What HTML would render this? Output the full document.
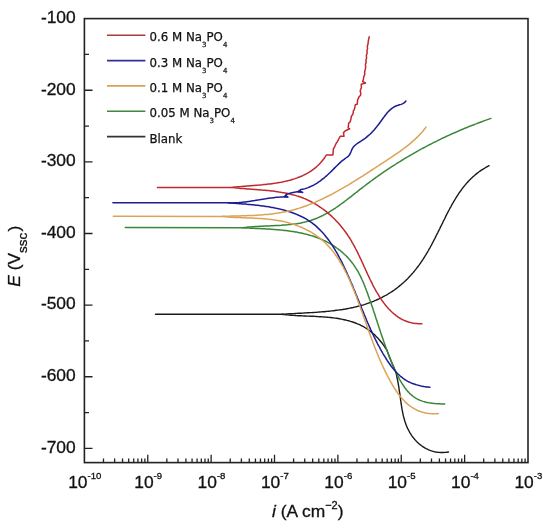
<!DOCTYPE html>
<html><head><meta charset="utf-8"><style>
html,body{margin:0;padding:0;background:#fff;}
svg{display:block;}
.ax{font-family:"Liberation Sans",Arial,sans-serif;font-size:17.4px;fill:#111;stroke:#111;stroke-width:0.3px;}
.lg{font-family:"DejaVu Sans","Liberation Sans",sans-serif;font-size:11.8px;fill:#111;stroke:#111;stroke-width:0.25px;}
</style></head><body>
<svg width="550" height="529" viewBox="0 0 550 529">
<rect width="550" height="529" fill="#fff"/>
<g fill="none" stroke-linejoin="round" stroke-linecap="round">
<path d="M155.5,314.3 282.0,314.3 L282.0,314.3 283.5,314.2 284.9,314.1 286.4,314.0 287.8,313.9 289.3,313.8 290.8,313.7 292.3,313.6 293.8,313.6 295.2,313.5 296.7,313.4 298.2,313.3 299.8,313.2 301.3,313.2 302.8,313.1 304.3,313.0 305.8,312.9 307.3,312.8 308.9,312.7 310.4,312.6 311.9,312.6 313.5,312.5 315.0,312.4 316.5,312.3 318.1,312.1 319.6,312.0 321.1,311.9 322.7,311.8 324.2,311.7 325.7,311.5 327.3,311.4 328.8,311.2 330.4,311.1 331.9,310.9 333.4,310.7 335.0,310.5 336.5,310.3 338.0,310.1 339.5,309.9 341.1,309.7 342.6,309.5 344.1,309.2 345.6,309.0 347.1,308.7 348.6,308.4 350.1,308.1 351.6,307.8 353.1,307.5 354.6,307.1 356.1,306.8 357.6,306.4 359.0,306.0 360.5,305.6 362.0,305.2 363.4,304.8 364.9,304.3 366.3,303.9 367.7,303.4 369.2,302.9 370.6,302.4 372.0,301.8 373.4,301.3 374.8,300.7 376.2,300.1 377.5,299.5 378.9,298.9 380.2,298.3 381.6,297.6 382.9,296.9 384.2,296.2 385.5,295.5 386.8,294.8 388.1,294.0 389.4,293.2 390.6,292.5 391.9,291.6 393.1,290.8 394.3,290.0 395.5,289.1 396.7,288.2 397.9,287.3 399.0,286.4 400.2,285.4 401.3,284.5 402.4,283.5 403.6,282.5 404.7,281.5 405.7,280.5 406.8,279.4 407.9,278.4 408.9,277.3 409.9,276.2 410.9,275.1 411.9,274.0 412.9,272.9 413.9,271.7 414.8,270.6 415.8,269.4 416.7,268.2 417.6,267.0 418.5,265.8 419.4,264.6 420.3,263.3 421.1,262.1 422.0,260.8 422.8,259.6 423.6,258.3 424.5,257.0 425.3,255.7 426.1,254.4 426.8,253.1 427.6,251.8 428.4,250.5 429.1,249.1 429.9,247.8 430.6,246.5 431.4,245.1 432.1,243.7 432.8,242.4 433.5,241.0 434.2,239.7 435.0,238.3 435.6,236.9 436.3,235.5 437.0,234.1 437.7,232.8 438.4,231.4 439.1,230.0 439.8,228.6 440.4,227.2 441.1,225.9 441.8,224.5 442.5,223.1 443.1,221.7 443.8,220.3 444.5,219.0 445.2,217.6 445.8,216.2 446.5,214.9 447.2,213.5 447.9,212.2 448.6,210.8 449.3,209.5 450.0,208.1 450.8,206.8 451.5,205.5 452.2,204.2 453.0,202.8 453.7,201.5 454.5,200.3 455.3,199.0 456.1,197.7 456.9,196.4 457.7,195.2 458.5,193.9 459.3,192.7 460.2,191.5 461.0,190.3 461.9,189.1 462.8,187.9 463.7,186.8 464.6,185.6 465.6,184.5 466.5,183.4 467.5,182.3 468.5,181.2 469.6,180.1 470.6,179.0 471.7,178.0 472.7,177.0 473.9,176.0 475.0,175.0 476.1,174.1 477.3,173.1 478.5,172.2 479.7,171.3 481.0,170.4 482.3,169.6 483.6,168.8 484.9,168.0 486.3,167.2 487.7,166.4 489.1,165.7" stroke="#1a1a1a" stroke-width="1.4"/>
<path d="M282.0,314.3 283.4,314.5 284.8,314.6 286.3,314.8 287.7,314.9 289.1,315.1 290.6,315.2 292.1,315.3 293.6,315.4 295.0,315.5 296.5,315.6 298.0,315.7 299.6,315.8 301.1,315.8 302.6,315.9 304.1,316.0 305.7,316.0 307.2,316.1 308.8,316.1 310.3,316.2 311.8,316.3 313.4,316.3 315.0,316.4 316.5,316.5 318.1,316.6 319.6,316.7 321.2,316.8 322.7,316.9 324.3,317.0 325.8,317.1 327.4,317.2 328.9,317.4 330.5,317.5 332.0,317.7 333.5,317.9 335.1,318.1 336.6,318.3 338.1,318.5 339.6,318.8 341.1,319.1 342.6,319.4 344.0,319.7 345.5,320.0 347.0,320.4 348.4,320.7 349.9,321.2 351.3,321.6 352.7,322.0 354.1,322.5 355.5,323.0 356.9,323.6 358.2,324.1 359.6,324.7 360.9,325.4 362.2,326.0 363.5,326.7 364.8,327.5 366.0,328.2 367.2,329.0 368.5,329.9 369.7,330.8 370.8,331.7 372.0,332.6 373.1,333.6 374.3,334.6 375.4,335.6 376.4,336.7 377.5,337.8 378.5,338.9 379.5,340.0 380.5,341.2 381.4,342.3 382.4,343.5 383.3,344.8 384.2,346.0 385.0,347.3 385.8,348.5 386.6,349.5 387.2,350.9 387.7,352.4 388.2,353.8 388.8,355.2 389.3,356.6 389.9,358.0 390.5,359.4 391.0,360.8 391.6,362.2 392.2,363.6 392.8,365.0 393.4,366.4 394.0,367.8 394.6,369.2 395.3,370.6 395.8,372.0 396.1,373.4 396.5,374.9 396.8,376.4 397.1,377.8 397.4,379.3 397.7,380.8 398.0,382.3 398.3,383.8 398.5,385.3 398.8,386.8 399.0,388.3 399.2,389.8 399.4,391.3 399.7,392.8 399.9,394.3 400.1,395.9 400.3,397.4 400.5,398.9 400.7,400.5 400.9,402.0 401.1,403.5 401.4,405.0 401.6,406.6 401.8,408.1 402.1,409.6 402.4,411.1 402.7,412.6 403.0,414.1 403.3,415.6 403.7,417.1 404.1,418.5 404.5,420.0 404.9,421.4 405.4,422.8 405.9,424.2 406.4,425.6 407.0,427.0 407.6,428.4 408.3,429.7 409.0,431.0 409.7,432.3 410.5,433.6 411.3,434.9 412.1,436.1 413.0,437.3 413.9,438.4 414.8,439.5 415.8,440.6 416.8,441.7 417.9,442.7 419.0,443.7 420.1,444.6 421.2,445.5 422.4,446.3 423.6,447.1 424.8,447.9 426.1,448.6 427.4,449.2 428.7,449.8 430.1,450.4 431.5,450.9 432.9,451.3 434.3,451.7 435.8,452.0 437.3,452.2 438.8,452.4 440.4,452.5 442.0,452.5 443.6,452.5 445.2,452.4 446.9,452.2 448.5,452.0" stroke="#1a1a1a" stroke-width="1.4"/>
<path d="M125.3,227.6 242.0,227.7 L242.0,227.7 243.5,227.6 244.9,227.4 246.3,227.3 247.8,227.1 249.3,227.0 250.8,226.9 252.2,226.8 253.7,226.7 255.2,226.6 256.7,226.5 258.2,226.4 259.7,226.3 261.2,226.3 262.8,226.2 264.3,226.1 265.8,226.1 267.3,226.0 268.9,225.9 270.4,225.8 272.0,225.8 273.5,225.7 275.1,225.6 276.6,225.5 278.2,225.4 279.7,225.4 281.3,225.3 282.8,225.1 284.4,225.0 285.9,224.9 287.4,224.8 289.0,224.6 290.5,224.5 292.1,224.3 293.6,224.1 295.1,223.9 296.6,223.7 298.1,223.4 299.6,223.2 301.1,222.9 302.6,222.6 304.1,222.3 305.6,221.9 307.0,221.5 308.5,221.1 309.9,220.7 311.3,220.3 312.7,219.8 314.1,219.3 315.5,218.8 316.9,218.2 318.2,217.6 319.6,217.0 320.9,216.4 322.2,215.8 323.5,215.1 324.8,214.4 326.1,213.7 327.4,213.0 328.7,212.3 330.0,211.5 331.2,210.7 332.5,209.9 333.7,209.1 335.0,208.3 336.2,207.5 337.5,206.6 338.7,205.8 339.9,204.9 341.1,204.0 342.3,203.2 343.5,202.3 344.7,201.4 346.0,200.5 347.1,199.5 348.3,198.6 349.5,197.7 350.7,196.8 351.9,195.8 353.1,194.9 354.3,193.9 355.5,193.0 356.7,192.1 357.9,191.1 359.1,190.2 360.3,189.2 361.5,188.3 362.7,187.4 363.9,186.5 365.1,185.5 366.3,184.6 367.5,183.7 368.7,182.8 369.9,181.9 371.1,181.0 372.4,180.1 373.6,179.2 374.8,178.3 376.0,177.4 377.3,176.6 378.5,175.7 379.7,174.8 381.0,174.0 382.2,173.1 383.5,172.2 384.7,171.4 385.9,170.6 387.2,169.7 388.5,168.9 389.7,168.0 391.0,167.2 392.2,166.4 393.5,165.6 394.8,164.8 396.0,164.0 397.3,163.1 398.6,162.3 399.9,161.6 401.1,160.8 402.4,160.0 403.7,159.2 405.0,158.4 406.3,157.6 407.6,156.9 408.9,156.1 410.2,155.3 411.5,154.6 412.8,153.8 414.1,153.1 415.4,152.4 416.7,151.6 418.0,150.9 419.3,150.2 420.6,149.4 422.0,148.7 423.3,148.0 424.6,147.3 425.9,146.6 427.3,145.9 428.6,145.2 429.9,144.5 431.3,143.8 432.6,143.1 434.0,142.4 435.3,141.8 436.7,141.1 438.0,140.4 439.4,139.8 440.7,139.1 442.1,138.4 443.4,137.8 444.8,137.2 446.2,136.5 447.5,135.9 448.9,135.3 450.3,134.6 451.6,134.0 453.0,133.4 454.4,132.8 455.8,132.2 457.1,131.6 458.5,131.0 459.9,130.4 461.3,129.8 462.7,129.2 464.1,128.6 465.5,128.0 466.9,127.5 468.3,126.9 469.7,126.3 471.1,125.8 472.5,125.2 473.9,124.7 475.3,124.1 476.7,123.6 478.2,123.0 479.6,122.5 481.0,122.0 482.4,121.5 483.8,120.9 485.3,120.4 486.7,119.9 488.1,119.4 489.6,118.9 491.0,118.4" stroke="#3a863a" stroke-width="1.5"/>
<path d="M242.0,227.7 243.5,227.8 245.0,227.9 246.4,227.9 247.9,228.0 249.4,228.1 250.9,228.2 252.4,228.2 253.9,228.3 255.5,228.4 257.0,228.5 258.5,228.5 260.0,228.6 261.5,228.7 263.0,228.8 264.6,228.8 266.1,228.9 267.6,229.0 269.1,229.1 270.7,229.2 272.2,229.3 273.7,229.4 275.3,229.5 276.8,229.7 278.3,229.8 279.9,229.9 281.4,230.1 282.9,230.2 284.4,230.4 285.9,230.6 287.5,230.8 289.0,231.0 290.5,231.2 292.0,231.4 293.5,231.6 295.0,231.9 296.5,232.1 298.0,232.4 299.5,232.7 300.9,233.0 302.4,233.3 303.9,233.7 305.4,234.0 306.8,234.4 308.3,234.8 309.7,235.2 311.2,235.6 312.6,236.0 314.0,236.5 315.4,237.0 316.8,237.5 318.2,238.0 319.6,238.6 321.0,239.2 322.4,239.8 323.7,240.4 325.1,241.0 326.4,241.7 327.7,242.4 329.1,243.1 330.4,243.8 331.7,244.6 333.0,245.4 334.2,246.2 335.5,247.1 336.7,248.0 338.0,248.9 339.2,249.8 340.4,250.7 341.5,251.7 342.7,252.7 343.8,253.7 344.9,254.8 346.0,255.8 347.1,256.9 348.2,258.0 349.2,259.2 350.2,260.3 351.1,261.5 352.1,262.7 353.0,263.9 353.9,265.1 354.7,266.3 355.5,267.6 356.3,268.8 357.1,270.1 357.9,271.4 358.6,272.7 359.3,274.1 360.0,275.4 360.7,276.7 361.3,278.1 361.9,279.5 362.6,280.8 363.2,282.2 363.8,283.6 364.3,285.0 364.9,286.4 365.4,287.8 366.0,289.3 366.5,290.7 367.1,292.1 367.6,293.5 368.1,294.9 368.6,296.4 369.1,297.8 369.6,299.2 370.1,300.7 370.6,302.1 371.1,303.5 371.6,305.0 372.1,306.4 372.6,307.8 373.1,309.3 373.5,310.7 374.0,312.2 374.5,313.6 375.0,315.0 375.4,316.5 375.9,317.9 376.4,319.4 376.9,320.8 377.3,322.3 377.8,323.7 378.3,325.1 378.7,326.6 379.2,328.0 379.7,329.5 380.2,330.9 380.6,332.3 381.1,333.8 381.6,335.2 382.1,336.7 382.6,338.1 383.1,339.5 383.6,341.0 384.1,342.4 384.6,343.8 385.1,345.2 385.6,346.7 386.1,348.1 386.6,349.5 387.2,350.9 387.7,352.4 388.2,353.8 388.8,355.2 389.3,356.6 389.9,358.0 390.5,359.4 391.0,360.8 391.6,362.2 392.2,363.6 392.8,365.0 393.4,366.4 394.0,367.8 394.6,369.2 395.3,370.6 395.9,372.0 396.6,373.3 397.2,374.7 397.9,376.1 398.6,377.4 399.3,378.8 400.0,380.1 400.8,381.4 401.5,382.7 402.3,384.0 403.1,385.2 404.0,386.5 404.8,387.7 405.7,388.8 406.6,390.0 407.5,391.1 408.5,392.1 409.5,393.2 410.5,394.2 411.6,395.1 412.7,396.0 413.8,396.9 415.0,397.7 416.2,398.4 417.5,399.1 418.8,399.8 420.2,400.4 421.6,400.9 423.0,401.4 424.5,401.8 426.0,402.2 427.5,402.5 429.0,402.8 430.6,403.0 432.2,403.2 433.8,403.4 435.3,403.6 436.9,403.7 438.5,403.8 440.1,403.8 441.7,403.9 443.2,403.9 444.7,404.0" stroke="#3a863a" stroke-width="1.5"/>
<path d="M157.5,187.5 232.0,187.4 L232.0,187.4 233.4,187.3 234.9,187.1 236.3,187.0 237.8,186.8 239.2,186.7 240.7,186.6 242.2,186.4 243.7,186.3 245.2,186.2 246.7,186.1 248.3,186.0 249.8,185.8 251.3,185.7 252.9,185.6 254.4,185.5 256.0,185.3 257.6,185.2 259.1,185.1 260.7,184.9 262.3,184.8 263.8,184.6 265.4,184.5 267.0,184.3 268.5,184.1 270.1,183.9 271.7,183.7 273.2,183.5 274.8,183.3 276.3,183.1 277.9,182.8 279.4,182.5 280.9,182.3 282.5,182.0 284.0,181.6 285.5,181.3 287.0,180.9 288.5,180.6 290.0,180.2 291.5,179.8 292.9,179.3 294.4,178.9 295.8,178.4 297.2,177.9 298.6,177.3 300.0,176.8 301.4,176.2 302.8,175.6 304.1,174.9 305.4,174.3 306.7,173.6 308.0,172.8 309.3,172.1 310.5,171.3 311.8,170.5 313.0,169.6 314.2,168.7 315.3,167.8 316.5,166.8 317.6,165.8 318.6,164.8 319.7,163.7 320.7,162.6 321.7,161.4 322.7,160.2 323.7,159.0 324.6,157.7 325.5,156.4 326.3,155.0 L326.3,155.0 329.6,155.0 332.9,155.0 333.4,148.9 334.6,146.8 336.2,143.2 337.4,141.6 339.0,138.5 340.2,136.3 344.0,136.3 343.5,132.6 345.4,130.7 349.7,128.8 348.2,127.8 348.7,123.1 350.1,122.0 350.6,120.3 351.5,116.0 353.0,114.1 353.4,110.8 354.3,109.6 354.9,107.0 355.3,104.7 357.2,104.2 357.7,99.5 358.3,98.6 359.1,96.6 360.5,95.5 360.8,92.8 360.2,91.5 360.6,89.5 361.4,87.5 361.2,84.2 365.5,83.0 362.6,81.5 363.4,79.2 363.9,76.3 364.8,74.5 364.6,72.4 365.2,69.6 365.7,67.5 365.4,64.4 366.2,62.1 365.9,60.2 366.6,58.0 366.3,55.4 367.2,53.0 366.9,50.5 367.6,48.6 367.3,46.5 368.1,43.5 368.3,41.0 369.2,36.8" stroke="#be2a2f" stroke-width="1.5"/>
<path d="M232.0,187.4 233.5,187.6 234.9,187.8 236.4,187.9 237.8,188.1 239.3,188.2 240.8,188.4 242.3,188.5 243.8,188.6 245.3,188.7 246.8,188.9 248.3,189.0 249.8,189.1 251.4,189.2 252.9,189.3 254.4,189.5 255.9,189.6 257.5,189.7 259.0,189.8 260.6,189.9 262.1,190.1 263.6,190.2 265.2,190.3 266.7,190.5 268.2,190.6 269.8,190.8 271.3,191.0 272.8,191.1 274.4,191.3 275.9,191.5 277.4,191.7 279.0,192.0 280.5,192.2 282.0,192.5 283.5,192.7 285.0,193.0 286.5,193.3 288.0,193.6 289.5,193.9 290.9,194.3 292.4,194.7 293.9,195.0 295.3,195.4 296.8,195.9 298.2,196.3 299.6,196.8 301.1,197.3 302.5,197.8 303.9,198.4 305.2,198.9 306.6,199.5 308.0,200.2 309.3,200.8 310.7,201.5 312.0,202.2 313.3,202.9 314.6,203.6 315.9,204.4 317.2,205.2 318.4,206.0 319.7,206.8 320.9,207.6 322.1,208.5 323.4,209.4 324.6,210.3 325.7,211.2 326.9,212.2 328.1,213.1 329.2,214.1 330.4,215.1 331.5,216.1 332.6,217.2 333.7,218.2 334.7,219.3 335.8,220.4 336.8,221.5 337.9,222.6 338.9,223.7 339.9,224.8 340.8,226.0 341.8,227.2 342.8,228.4 343.7,229.6 344.6,230.8 345.5,232.0 346.4,233.3 347.3,234.5 348.1,235.8 348.9,237.0 349.8,238.3 350.6,239.6 351.4,240.9 352.1,242.3 352.9,243.6 353.6,244.9 354.4,246.3 355.1,247.6 355.8,249.0 356.5,250.3 357.2,251.7 357.9,253.1 358.5,254.5 359.2,255.8 359.8,257.2 360.5,258.6 361.2,260.0 361.8,261.4 362.4,262.8 363.1,264.2 363.7,265.6 364.3,267.0 365.0,268.4 365.6,269.8 366.3,271.2 366.9,272.6 367.5,274.0 368.2,275.4 368.8,276.7 369.5,278.1 370.1,279.5 370.8,280.9 371.5,282.2 372.2,283.6 372.8,285.0 373.5,286.3 374.2,287.6 375.0,289.0 375.7,290.3 376.4,291.6 377.2,292.9 378.0,294.2 378.8,295.5 379.5,296.8 380.4,298.0 381.2,299.3 382.0,300.5 382.9,301.7 383.8,302.9 384.7,304.1 385.6,305.3 386.6,306.4 387.5,307.6 388.5,308.7 389.6,309.7 390.6,310.8 391.6,311.8 392.7,312.8 393.8,313.8 395.0,314.7 396.1,315.6 397.3,316.4 398.5,317.3 399.7,318.0 401.0,318.8 402.3,319.5 403.6,320.1 405.0,320.7 406.4,321.3 407.8,321.8 409.2,322.2 410.7,322.6 412.2,323.0 413.7,323.2 415.3,323.5 416.9,323.6 418.5,323.8 420.2,323.8 421.9,323.8" stroke="#be2a2f" stroke-width="1.5"/>
<path d="M112.9,202.7 228.0,202.8 L228.0,202.8 229.6,202.8 231.2,202.9 232.7,202.9 234.3,202.8 235.9,202.8 237.5,202.7 239.1,202.6 240.6,202.4 242.2,202.3 243.8,202.1 245.3,201.9 246.9,201.7 248.5,201.5 250.0,201.3 251.6,201.0 253.2,200.8 254.7,200.6 256.3,200.3 257.8,200.0 259.4,199.8 261.0,199.5 262.5,199.3 264.1,199.0 265.6,198.8 267.2,198.5 268.7,198.3 270.3,198.1 271.9,197.9 273.4,197.7 275.0,197.5 276.5,197.3 278.1,197.2 279.7,197.1 281.2,196.9 282.8,196.9 284.4,196.8 285.9,196.8 287.5,196.8 L287.8,196.9 285.2,195.6 287.6,193.9 291.8,192.7 298.4,191.6 302.7,192.4 299.5,190.8 300.8,189.6 L300.8,189.6 302.3,189.3 303.8,189.0 305.3,188.6 306.7,188.1 308.2,187.6 309.5,187.0 310.9,186.4 312.3,185.8 313.6,185.1 314.9,184.3 316.2,183.6 317.5,182.8 318.7,181.9 320.0,181.1 321.2,180.2 322.4,179.2 323.6,178.3 324.8,177.3 325.9,176.3 327.1,175.3 328.2,174.3 329.3,173.2 330.4,172.2 331.5,171.1 332.6,170.0 333.7,168.9 334.7,167.9 335.8,166.8 336.9,165.7 337.9,164.7 339.0,163.6 340.1,162.6 341.2,161.6 342.3,160.7 343.5,159.8 344.7,158.9 345.9,158.0 347.1,157.2 348.3,156.3 349.2,155.3 350.0,154.0 350.6,152.6 351.2,151.2 351.8,149.7 352.5,148.3 353.3,147.1 354.3,146.0 355.4,145.0 356.6,144.0 357.8,143.2 359.1,142.3 360.4,141.5 361.6,140.7 362.9,139.8 364.2,139.0 365.4,138.1 366.6,137.1 367.7,136.2 368.9,135.2 370.0,134.2 371.0,133.2 372.1,132.1 373.1,131.0 374.1,129.9 375.1,128.7 376.1,127.6 377.0,126.4 377.9,125.2 378.9,124.0 379.8,122.7 380.7,121.5 381.6,120.2 382.5,119.0 383.4,117.7 384.4,116.5 385.3,115.2 386.3,114.0 387.2,112.8 388.2,111.7 389.3,110.6 390.4,109.6 391.5,108.7 392.7,107.8 393.9,107.0 395.2,106.3 396.6,105.7 398.1,105.3 399.5,104.8 401.0,104.4 402.4,103.9 403.7,103.2 404.9,102.2 405.9,101.0" stroke="#1c1c94" stroke-width="1.5"/>
<path d="M228.0,202.8 229.4,202.9 230.8,203.0 232.2,203.1 233.7,203.2 235.1,203.3 236.5,203.4 238.0,203.5 239.5,203.7 240.9,203.8 242.4,203.9 243.9,204.0 245.4,204.1 246.9,204.3 248.5,204.4 250.0,204.5 251.5,204.7 253.0,204.8 254.6,205.0 256.1,205.2 257.7,205.3 259.2,205.5 260.7,205.7 262.3,205.9 263.8,206.1 265.4,206.4 266.9,206.6 268.5,206.8 270.0,207.1 271.5,207.4 273.1,207.6 274.6,207.9 276.1,208.3 277.7,208.6 279.2,208.9 280.7,209.3 282.2,209.6 283.7,210.0 285.2,210.4 286.6,210.9 288.1,211.3 289.5,211.8 291.0,212.2 292.4,212.7 293.8,213.3 295.2,213.8 296.6,214.4 298.0,215.0 299.4,215.6 300.7,216.2 302.0,216.8 303.4,217.5 304.7,218.2 305.9,218.9 307.2,219.7 308.4,220.5 309.7,221.3 310.9,222.1 312.0,222.9 313.2,223.8 314.3,224.7 315.5,225.7 316.6,226.6 317.6,227.6 318.7,228.6 319.7,229.6 320.8,230.7 321.8,231.7 322.8,232.8 323.7,233.9 324.7,235.1 325.6,236.2 326.6,237.4 327.5,238.5 328.4,239.7 329.3,240.9 330.1,242.2 331.0,243.4 331.8,244.7 332.6,245.9 333.5,247.2 334.3,248.5 335.1,249.8 335.8,251.1 336.6,252.4 337.3,253.7 338.1,255.1 338.8,256.4 339.5,257.8 340.3,259.1 341.0,260.5 341.7,261.9 342.3,263.2 343.0,264.6 343.7,266.0 344.3,267.4 345.0,268.8 345.6,270.1 346.3,271.5 346.9,272.9 347.5,274.3 348.2,275.7 348.8,277.1 349.4,278.5 350.0,279.9 350.6,281.3 351.2,282.7 351.8,284.0 352.4,285.4 353.0,286.8 353.5,288.2 354.1,289.6 354.7,291.0 355.3,292.4 355.8,293.8 356.4,295.2 357.0,296.6 357.5,298.0 358.1,299.4 358.7,300.8 359.2,302.2 359.8,303.6 360.4,305.0 360.9,306.4 361.5,307.8 362.0,309.1 362.6,310.5 363.2,311.9 363.8,313.3 364.3,314.7 364.9,316.1 365.5,317.5 366.1,318.8 366.6,320.2 367.2,321.6 367.8,323.0 368.4,324.3 369.0,325.7 369.6,327.1 370.2,328.4 370.8,329.8 371.5,331.2 372.1,332.5 372.7,333.9 373.4,335.2 374.0,336.6 374.7,337.9 375.3,339.3 376.0,340.6 376.7,341.9 377.3,343.3 378.0,344.6 378.7,345.9 379.5,347.2 380.2,348.6 380.9,349.9 381.6,351.2 382.4,352.5 383.1,353.8 383.9,355.1 384.7,356.4 385.5,357.7 386.3,359.0 387.1,360.3 387.9,361.5 388.8,362.8 389.7,364.0 390.5,365.3 391.4,366.5 392.4,367.7 393.3,368.8 394.3,370.0 395.2,371.1 396.2,372.2 397.3,373.3 398.3,374.3 399.4,375.3 400.5,376.3 401.7,377.2 402.8,378.1 404.0,379.0 405.3,379.8 406.5,380.6 407.8,381.3 409.2,382.0 410.5,382.6 411.9,383.2 413.3,383.7 414.8,384.2 416.2,384.7 417.7,385.1 419.2,385.5 420.7,385.9 422.2,386.2 423.7,386.5 425.2,386.7 426.8,386.9 428.3,387.1 429.8,387.3" stroke="#1c1c94" stroke-width="1.5"/>
<path d="M113.3,216.3 222.0,216.4 L222.0,216.4 223.5,216.3 225.0,216.3 226.5,216.2 228.0,216.2 229.5,216.2 231.0,216.1 232.5,216.1 234.0,216.0 235.5,216.0 237.0,216.0 238.6,215.9 240.1,215.9 241.6,215.8 243.1,215.8 244.6,215.7 246.2,215.7 247.7,215.6 249.2,215.6 250.7,215.5 252.3,215.4 253.8,215.4 255.3,215.3 256.9,215.2 258.4,215.1 259.9,215.0 261.4,214.9 262.9,214.8 264.5,214.6 266.0,214.5 267.5,214.4 269.0,214.2 270.5,214.1 272.0,213.9 273.5,213.7 275.0,213.5 276.5,213.3 278.0,213.1 279.5,212.8 281.0,212.6 282.5,212.3 284.0,212.0 285.5,211.7 286.9,211.4 288.4,211.1 289.9,210.8 291.3,210.4 292.8,210.0 294.2,209.7 295.7,209.2 297.1,208.8 298.5,208.4 300.0,207.9 301.4,207.5 302.8,207.0 304.2,206.5 305.6,206.0 307.0,205.5 308.4,204.9 309.8,204.4 311.2,203.8 312.6,203.3 314.0,202.7 315.4,202.1 316.7,201.5 318.1,200.9 319.5,200.3 320.8,199.6 322.2,199.0 323.6,198.3 324.9,197.7 326.3,197.0 327.6,196.3 328.9,195.7 330.3,195.0 331.6,194.3 333.0,193.6 334.3,192.8 335.6,192.1 336.9,191.4 338.3,190.7 339.6,189.9 340.9,189.2 342.2,188.4 343.5,187.7 344.8,186.9 346.1,186.1 347.5,185.4 348.8,184.6 350.1,183.8 351.4,183.0 352.7,182.2 354.0,181.4 355.2,180.6 356.5,179.8 357.8,179.0 359.1,178.2 360.4,177.4 361.7,176.6 363.0,175.8 364.3,175.0 365.5,174.2 366.8,173.3 368.1,172.5 369.4,171.7 370.6,170.8 371.9,170.0 373.2,169.2 374.5,168.4 375.7,167.5 377.0,166.7 378.3,165.9 379.5,165.0 380.8,164.2 382.1,163.4 383.3,162.5 384.6,161.7 385.9,160.9 387.1,160.0 388.4,159.2 389.7,158.4 390.9,157.5 392.2,156.7 393.4,155.8 394.7,155.0 395.9,154.2 397.2,153.3 398.4,152.4 399.7,151.6 400.9,150.7 402.1,149.8 403.3,148.9 404.5,148.0 405.7,147.1 406.9,146.2 408.0,145.3 409.2,144.3 410.4,143.4 411.5,142.4 412.6,141.4 413.8,140.4 414.9,139.4 416.0,138.4 417.0,137.4 418.1,136.3 419.1,135.2 420.2,134.1 421.2,133.0 422.2,131.9 423.2,130.7 424.1,129.5 425.1,128.3 426.0,127.1" stroke="#dba356" stroke-width="1.5"/>
<path d="M222.0,216.4 223.5,216.5 225.0,216.7 226.5,216.8 227.9,217.0 229.4,217.1 230.9,217.2 232.4,217.3 233.9,217.4 235.4,217.4 236.9,217.5 238.5,217.6 240.0,217.6 241.5,217.7 243.0,217.8 244.5,217.8 246.0,217.9 247.6,217.9 249.1,218.0 250.6,218.0 252.1,218.1 253.6,218.2 255.2,218.2 256.7,218.3 258.2,218.4 259.7,218.5 261.3,218.6 262.8,218.7 264.3,218.8 265.8,218.9 267.3,219.1 268.8,219.2 270.4,219.4 271.9,219.6 273.4,219.7 274.9,220.0 276.4,220.2 277.9,220.4 279.4,220.7 280.9,221.0 282.4,221.3 283.8,221.6 285.3,222.0 286.8,222.3 288.3,222.7 289.7,223.1 291.2,223.6 292.7,224.0 294.1,224.5 295.5,225.0 297.0,225.5 298.4,226.1 299.8,226.6 301.2,227.2 302.6,227.8 303.9,228.5 305.3,229.1 306.6,229.8 308.0,230.5 309.3,231.2 310.6,231.9 311.9,232.7 313.1,233.5 314.4,234.3 315.6,235.1 316.8,236.0 318.0,236.8 319.2,237.7 320.4,238.6 321.5,239.6 322.6,240.5 323.7,241.5 324.8,242.5 325.9,243.5 326.9,244.6 327.9,245.6 328.9,246.7 329.9,247.8 330.9,248.9 331.8,250.1 332.8,251.2 333.7,252.4 334.6,253.6 335.4,254.8 336.3,256.0 337.1,257.2 338.0,258.5 338.8,259.7 339.6,261.0 340.4,262.3 341.2,263.6 341.9,264.9 342.7,266.2 343.4,267.5 344.1,268.9 344.8,270.2 345.5,271.6 346.2,273.0 346.9,274.3 347.6,275.7 348.2,277.1 348.9,278.5 349.5,279.9 350.1,281.3 350.7,282.7 351.3,284.2 351.9,285.6 352.5,287.0 353.1,288.4 353.7,289.9 354.3,291.3 354.8,292.7 355.4,294.2 356.0,295.6 356.5,297.1 357.0,298.5 357.6,299.9 358.1,301.4 358.6,302.8 359.2,304.3 359.7,305.7 360.2,307.1 360.7,308.5 361.2,310.0 361.8,311.4 362.3,312.8 362.8,314.3 363.3,315.7 363.8,317.1 364.3,318.5 364.8,319.9 365.3,321.4 365.8,322.8 366.3,324.2 366.8,325.6 367.3,327.0 367.8,328.4 368.3,329.8 368.8,331.3 369.3,332.7 369.8,334.1 370.3,335.5 370.9,336.9 371.4,338.3 371.9,339.7 372.4,341.1 372.9,342.5 373.5,343.9 374.0,345.3 374.5,346.7 375.1,348.1 375.6,349.4 376.2,350.8 376.8,352.2 377.3,353.6 377.9,355.0 378.5,356.4 379.0,357.8 379.6,359.1 380.2,360.5 380.8,361.9 381.5,363.3 382.1,364.7 382.7,366.0 383.3,367.4 384.0,368.8 384.6,370.1 385.3,371.5 386.0,372.9 386.7,374.3 387.3,375.6 388.1,377.0 388.8,378.3 389.5,379.7 390.2,381.1 391.0,382.4 391.7,383.7 392.5,385.1 393.3,386.4 394.1,387.7 394.9,389.0 395.8,390.3 396.6,391.5 397.5,392.8 398.4,394.0 399.3,395.2 400.2,396.4 401.2,397.6 402.2,398.7 403.2,399.8 404.2,400.8 405.2,401.9 406.3,402.9 407.4,403.9 408.5,404.8 409.6,405.7 410.8,406.5 412.0,407.4 413.2,408.1 414.5,408.9 415.7,409.5 417.0,410.2 418.4,410.8 419.7,411.3 421.1,411.8 422.6,412.2 424.0,412.6 425.5,412.9 427.0,413.2 428.5,413.4 430.1,413.6 431.7,413.7 433.3,413.8 434.9,413.8 436.6,413.7 438.2,413.6" stroke="#dba356" stroke-width="1.5"/>
<path d="M284.3,197.3 L288.2,197.3 L286,194.9 Z M297.9,192.3 L301.6,192.5 L299.4,190.2 Z" fill="#1c1c94" stroke="#1c1c94" stroke-width="0.6"/>
</g>
<rect x="84.4" y="18.6" width="443.6" height="444.0" fill="none" stroke="#222" stroke-width="1.6"/>
<path d="M103.48,462.6 V458.50 M114.64,462.6 V458.50 M122.55,462.6 V458.50 M128.69,462.6 V458.50 M133.71,462.6 V458.50 M137.95,462.6 V458.50 M141.63,462.6 V458.50 M144.87,462.6 V458.50 M147.77,462.6 V454.80 M166.85,462.6 V458.50 M178.01,462.6 V458.50 M185.92,462.6 V458.50 M192.06,462.6 V458.50 M197.08,462.6 V458.50 M201.32,462.6 V458.50 M205.00,462.6 V458.50 M208.24,462.6 V458.50 M211.14,462.6 V454.80 M230.22,462.6 V458.50 M241.38,462.6 V458.50 M249.29,462.6 V458.50 M255.43,462.6 V458.50 M260.45,462.6 V458.50 M264.69,462.6 V458.50 M268.37,462.6 V458.50 M271.61,462.6 V458.50 M274.51,462.6 V454.80 M293.59,462.6 V458.50 M304.75,462.6 V458.50 M312.66,462.6 V458.50 M318.80,462.6 V458.50 M323.82,462.6 V458.50 M328.06,462.6 V458.50 M331.74,462.6 V458.50 M334.98,462.6 V458.50 M337.88,462.6 V454.80 M356.96,462.6 V458.50 M368.12,462.6 V458.50 M376.03,462.6 V458.50 M382.17,462.6 V458.50 M387.19,462.6 V458.50 M391.43,462.6 V458.50 M395.11,462.6 V458.50 M398.35,462.6 V458.50 M401.25,462.6 V454.80 M420.33,462.6 V458.50 M431.49,462.6 V458.50 M439.40,462.6 V458.50 M445.54,462.6 V458.50 M450.56,462.6 V458.50 M454.80,462.6 V458.50 M458.48,462.6 V458.50 M461.72,462.6 V458.50 M464.62,462.6 V454.80 M483.70,462.6 V458.50 M494.86,462.6 V458.50 M502.77,462.6 V458.50 M508.91,462.6 V458.50 M513.93,462.6 V458.50 M518.17,462.6 V458.50 M521.85,462.6 V458.50 M525.09,462.6 V458.50 M84.4,54.42 H89.00 M84.4,90.23 H92.50 M84.4,126.05 H89.00 M84.4,161.86 H92.50 M84.4,197.68 H89.00 M84.4,233.49 H92.50 M84.4,269.31 H89.00 M84.4,305.12 H92.50 M84.4,340.94 H89.00 M84.4,376.75 H92.50 M84.4,412.57 H89.00 M84.4,448.38 H92.50" stroke="#222" stroke-width="1.3" fill="none"/>
<g class="ax">
<text x="75.7" y="22.9" text-anchor="end">-100</text>
<text x="75.7" y="94.5" text-anchor="end">-200</text>
<text x="75.7" y="166.2" text-anchor="end">-300</text>
<text x="75.7" y="237.8" text-anchor="end">-400</text>
<text x="75.7" y="309.4" text-anchor="end">-500</text>
<text x="75.7" y="381.1" text-anchor="end">-600</text>
<text x="75.7" y="452.7" text-anchor="end">-700</text>
<text x="84.8" y="488.0" text-anchor="middle">10<tspan dy="-9.2" font-size="9.6">-10</tspan></text>
<text x="148.2" y="488.0" text-anchor="middle">10<tspan dy="-9.2" font-size="9.6">-9</tspan></text>
<text x="211.5" y="488.0" text-anchor="middle">10<tspan dy="-9.2" font-size="9.6">-8</tspan></text>
<text x="274.9" y="488.0" text-anchor="middle">10<tspan dy="-9.2" font-size="9.6">-7</tspan></text>
<text x="338.3" y="488.0" text-anchor="middle">10<tspan dy="-9.2" font-size="9.6">-6</tspan></text>
<text x="401.6" y="488.0" text-anchor="middle">10<tspan dy="-9.2" font-size="9.6">-5</tspan></text>
<text x="465.0" y="488.0" text-anchor="middle">10<tspan dy="-9.2" font-size="9.6">-4</tspan></text>
<text x="528.4" y="488.0" text-anchor="middle">10<tspan dy="-9.2" font-size="9.6">-3</tspan></text>
<text x="272" y="516.8"><tspan font-style="italic">i</tspan> (A cm<tspan dy="-7.8" font-size="11">&#8722;2</tspan><tspan dy="7.8">)</tspan></text>
<text transform="translate(20.4,286.8) rotate(-90)"><tspan font-style="italic">E</tspan> (V<tspan dy="6.2" font-size="13.5">ssc</tspan><tspan dy="-6.2" dx="1.2">)</tspan></text>
</g>
<g class="lg">
<path d="M107,35.2 H145.4" stroke="#b03a3a" stroke-width="1.6"/>
<text x="149.5" y="41.1">0.6 M Na<tspan dy="6.0" font-size="7.0">3</tspan><tspan dy="-6.0">PO</tspan><tspan dy="6.0" font-size="7.0">4</tspan></text>
<path d="M107,60.6 H145.4" stroke="#3030a0" stroke-width="1.6"/>
<text x="149.5" y="66.5">0.3 M Na<tspan dy="6.0" font-size="7.0">3</tspan><tspan dy="-6.0">PO</tspan><tspan dy="6.0" font-size="7.0">4</tspan></text>
<path d="M107,85.9 H145.4" stroke="#d8a058" stroke-width="1.6"/>
<text x="149.5" y="91.8">0.1 M Na<tspan dy="6.0" font-size="7.0">3</tspan><tspan dy="-6.0">PO</tspan><tspan dy="6.0" font-size="7.0">4</tspan></text>
<path d="M107,111.3 H145.4" stroke="#3f8a3f" stroke-width="1.6"/>
<text x="149.5" y="117.2">0.05 M Na<tspan dy="6.0" font-size="7.0">3</tspan><tspan dy="-6.0">PO</tspan><tspan dy="6.0" font-size="7.0">4</tspan></text>
<path d="M107,136.6 H145.4" stroke="#333" stroke-width="1.6"/>
<text x="149.5" y="142.5">Blank</text>
</g>
</svg>
</body></html>
